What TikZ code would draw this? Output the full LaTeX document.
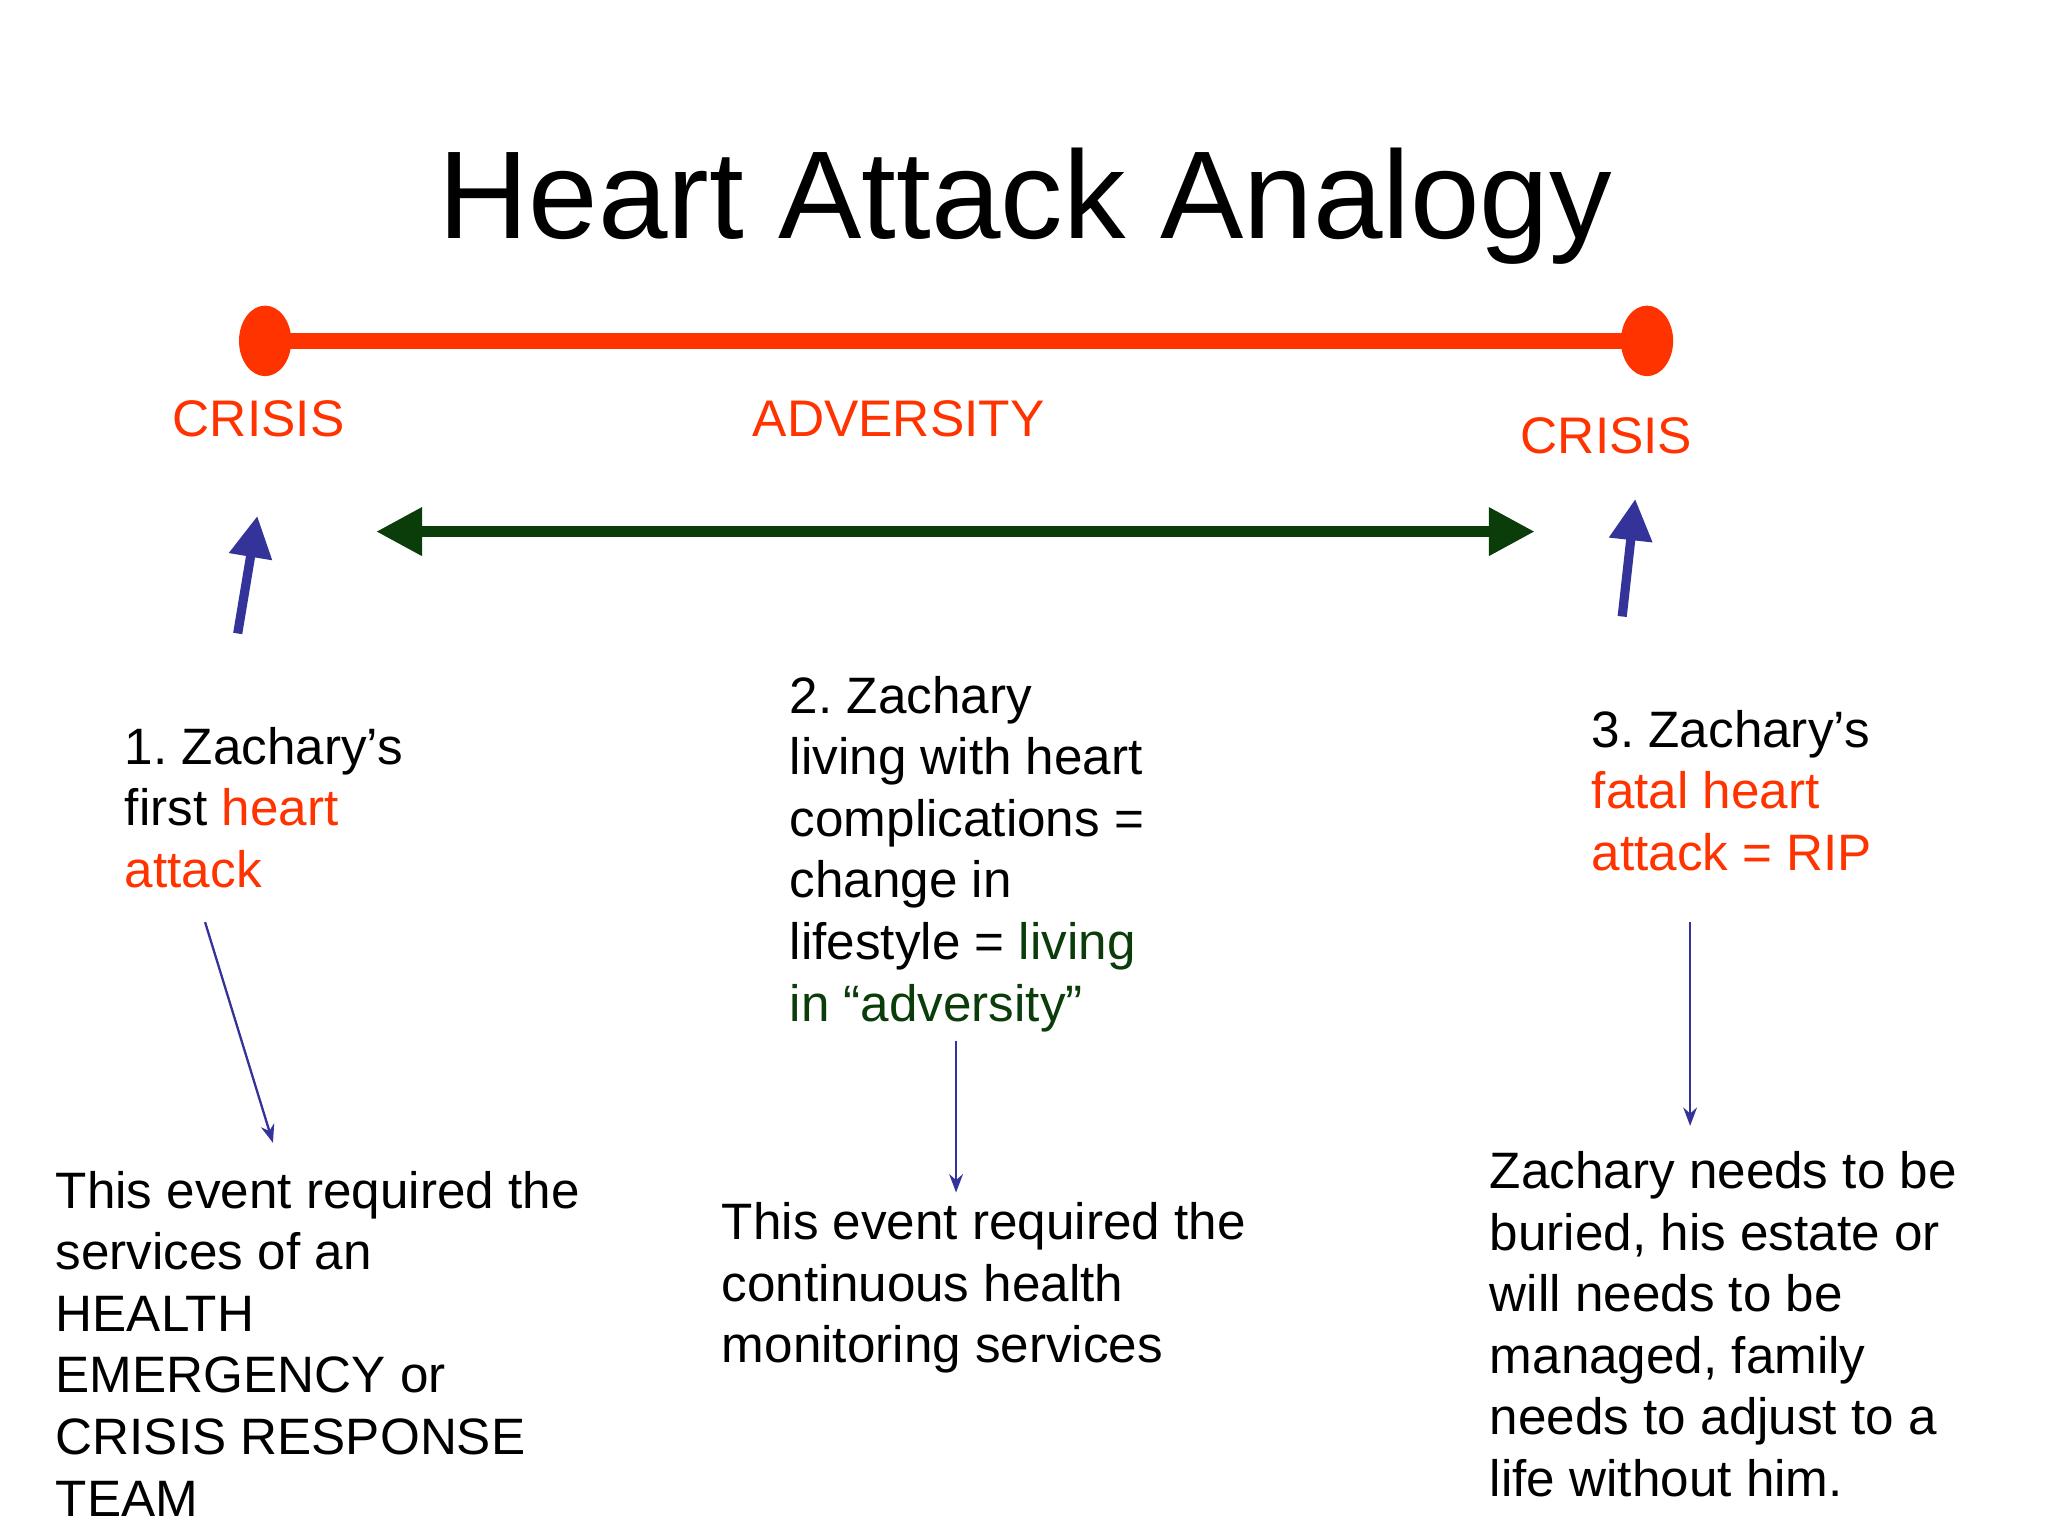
\documentclass[tikz,border=0pt]{standalone}
\usepackage{fontspec}
\setmainfont{Liberation Sans}
\frenchspacing
\usetikzlibrary{arrows.meta}
\definecolor{crisisred}{HTML}{FF3300}
\definecolor{advgreen}{HTML}{0B3D0B}
\definecolor{pointblue}{HTML}{333399}
\tikzset{
  label txt/.style={text=crisisred,font=\fontsize{11.2}{13.4}\selectfont,inner sep=0pt},
  body txt/.style={anchor=north west,align=left,inner sep=0pt,font=\fontsize{11.15}{13.4}\selectfont},
  big arrow/.style={pointblue,line width=2pt,-{Triangle[length=9pt,width=9pt]}},
  thin arrow/.style={pointblue,line width=0.5pt,-{Stealth[length=4pt,width=3pt]}}
}
\begin{document}
\begin{tikzpicture}[x=0.01cm,y=-0.01cm]
  \useasboundingbox (0,0) rectangle (1568,1176);
  \node (title) at (785,158) {\fontsize{27.2}{30}\selectfont Heart Attack Analogy};
  % red time line
  \coordinate (lstart) at (203,261);
  \coordinate (lend) at (1261,261);
  \draw[crisisred,line width=3.4pt] (lstart) -- (lend);
  \fill[crisisred] (lstart) ellipse [x radius=20,y radius=27];
  \fill[crisisred] (lend) ellipse [x radius=20,y radius=27];
  \node[label txt] (crisisA) at (198,321) {CRISIS};
  \node[label txt] (adv) at (688,321) {ADVERSITY};
  \node[label txt] (crisisB) at (1230,334) {CRISIS};
  % green span
  \coordinate (gl) at (288,407);
  \coordinate (gr) at (1175,407);
  \draw[advgreen,line width=2.3pt,{Triangle[length=10pt,width=10pt]}-{Triangle[length=10pt,width=10pt]}] (gl) -- (gr);
  % blue up arrows
  \coordinate (ua) at (182,485);
  \coordinate (ub) at (1242,472);
  \draw[big arrow] (ua) -- (197,395);
  \draw[big arrow] (ub) -- (1252,382);
  % event texts
  \node[body txt] (ev1) at (95,556) {1. Zachary’s\\first \textcolor{crisisred}{heart}\\\textcolor{crisisred}{attack}};
  \node[body txt] (ev2) at (604,517) {2. Zachary\\living with heart\\complications =\\change in\\lifestyle = \textcolor{advgreen}{living}\\\textcolor{advgreen}{in “adversity”}};
  \node[body txt] (ev3) at (1218,543) {3. Zachary’s\\\textcolor{crisisred}{fatal heart}\\\textcolor{crisisred}{attack = RIP}};
  % consequences
  \node[body txt] (res1) at (42,896) {This event required the\\services of an\\HEALTH\\EMERGENCY or\\CRISIS RESPONSE\\TEAM};
  \node[body txt] (res2) at (552,920) {This event required the\\continuous health\\monitoring services};
  \node[body txt] (res3) at (1140,881) {Zachary needs to be\\buried, his estate or\\will needs to be\\managed, family\\needs to adjust to a\\life without him.};
  \coordinate (t1) at (157,706);
  \coordinate (t2) at (732,797);
  \coordinate (t3) at (1294,706);
  \draw[thin arrow] (t1) -- (209,875);
  \draw[thin arrow] (t2) -- (732,913);
  \draw[thin arrow] (t3) -- (1294,862);
\end{tikzpicture}
\end{document}
